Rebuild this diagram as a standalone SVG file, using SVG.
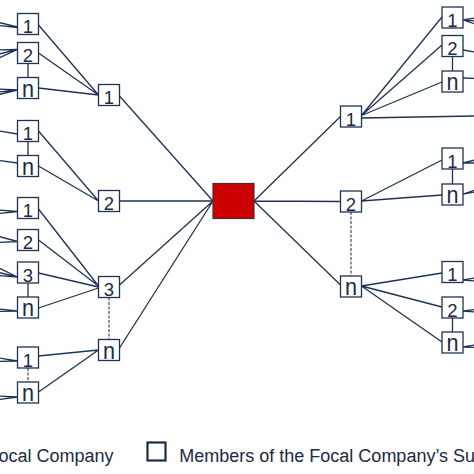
<svg xmlns="http://www.w3.org/2000/svg" width="474" height="474" viewBox="0 0 474 474">
<style>
.box{fill:#ffffff;stroke:#1e3354;stroke-width:1.3}
.lbl{font-family:"Liberation Sans",Arial,sans-serif;font-size:18.5px;fill:#1b2a44;text-anchor:middle}
.nl{font-family:"Liberation Sans",Arial,sans-serif;font-size:24px;fill:#1b2a44;text-anchor:middle}
.ln{stroke:#1e3354;stroke-width:1.3;fill:none}
.dash{stroke:#3a4c68;stroke-width:1.2;stroke-dasharray:3 1.5;fill:none}
.leg{font-family:"Liberation Sans",Arial,sans-serif;font-size:18px;fill:#1b2a44}
</style>
<rect width="474" height="474" fill="#ffffff"/>
<g id="connectors">
<!-- left stubs -->
<path class="ln" d="M-1 22.5L17.5 27M-1 25.5L17.5 27.5"/>
<path class="ln" d="M-1 50L17.5 49.5M-1 54L17.5 49.5M-1 58L17.5 49.5"/>
<path class="ln" d="M-1 89L17.5 90M-1 92L17.5 90M-1 94.5L17.5 90"/>
<path class="ln" d="M-1 131L17.5 134"/>
<path class="ln" d="M-1 160.5L17.5 163"/>
<path class="ln" d="M-1 210L17.5 211.5M-1 213.5L17.5 211.5"/>
<path class="ln" d="M-1 236.5L17.5 241.5M-1 242.5L17.5 241.5"/>
<path class="ln" d="M-1 268L17.5 277M-1 272.5L17.5 277M-1 275.5L17.5 277"/>
<path class="ln" d="M-1 309L17.5 311M-1 311.5L17.5 311"/>
<path class="ln" d="M-1 358L17.5 361M-1 361.5L17.5 361"/>
<path class="ln" d="M-1 396L17.5 397M-1 399.5L17.5 397"/>
<!-- left outer to left center -->
<path class="ln" d="M38.5 25L98.5 95M38.5 53L98.5 95M38.5 88L98.5 95"/>
<path class="ln" d="M38.5 131L98.5 201M38.5 166L98.5 201"/>
<path class="ln" d="M38.5 209L98.5 286M38.5 240L98.5 286M38.5 273L98.5 287M38.5 308L98.5 288"/>
<path class="ln" d="M38.5 356L98.5 350M38.5 392L98.5 350"/>
<!-- left center to focal -->
<path class="ln" d="M119.5 96L213 201M119.5 201L213 201M119.5 285L213 201M119.5 348L213 201"/>
<!-- sibling verticals left -->
<path class="ln" d="M28 63.5V77.5M28 141.5V155.5M28 283V297"/>
<path class="dash" d="M28 368V382M109 297.5V339.5"/>
<!-- focal to right center -->
<path class="ln" d="M254 201L340.5 116.5M254 201L340.5 201.5M254 201L340.5 285"/>
<!-- right center to right outer -->
<path class="ln" d="M361.5 115.5L442 17M361.5 115.5L442 45M361.5 115.5L442 82M361.5 118L475 116"/>
<path class="ln" d="M361.5 201L442 160M361.5 201L442 195"/>
<path class="ln" d="M361.5 286L442 273M361.5 286L442 307M361.5 286L442 342"/>
<!-- sibling verticals right -->
<path class="ln" d="M452.5 56.5V71M452.5 169V184M452.5 318V332"/>
<path class="dash" d="M351 212V276"/>
<!-- right stubs -->
<path class="ln" d="M463 20L475 18M463 20L475 21M463 20L475 24"/>
<path class="ln" d="M463 50L475 52"/>
<path class="ln" d="M463 78L475 78.5"/>
<path class="ln" d="M463 163L475 160M463 163L475 163"/>
<path class="ln" d="M463 194L475 190M463 194L475 192"/>
<path class="ln" d="M463 280L475 278M463 280L475 281"/>
<path class="ln" d="M463 311L475 309.5M463 311L475 312"/>
<path class="ln" d="M463 347L475 345M463 347L475 347.5"/>
</g>
<g id="focal"><rect x="213" y="183.5" width="41" height="35" fill="#cc0000" stroke="#4a2a3a" stroke-width="1.2"/></g>
<!-- left outer -->
<g id="A1"><rect class="box" x="17.5" y="13.5" width="21" height="21"/><text class="lbl" x="28" y="33">1</text></g>
<g id="A2"><rect class="box" x="17.5" y="42.5" width="21" height="21"/><text class="lbl" x="28" y="62">2</text></g>
<g id="An"><rect class="box" x="17.5" y="77.5" width="21" height="21"/><text class="nl" x="28" y="96.5" textLength="12" lengthAdjust="spacingAndGlyphs">n</text></g>
<g id="B1"><rect class="box" x="17.5" y="120.5" width="21" height="21"/><text class="lbl" x="28" y="140">1</text></g>
<g id="Bn"><rect class="box" x="17.5" y="155.5" width="21" height="21"/><text class="nl" x="28" y="174.5" textLength="12" lengthAdjust="spacingAndGlyphs">n</text></g>
<g id="C1"><rect class="box" x="17.5" y="197.5" width="21" height="21"/><text class="lbl" x="28" y="217">1</text></g>
<g id="C2"><rect class="box" x="17.5" y="229.5" width="21" height="21"/><text class="lbl" x="28" y="249">2</text></g>
<g id="C3"><rect class="box" x="17.5" y="262" width="21" height="21"/><text class="lbl" x="28" y="281.5">3</text></g>
<g id="Cn"><rect class="box" x="17.5" y="297" width="21" height="21"/><text class="nl" x="28" y="316" textLength="12" lengthAdjust="spacingAndGlyphs">n</text></g>
<g id="D1"><rect class="box" x="17.5" y="347" width="21" height="21"/><text class="lbl" x="28" y="366.5">1</text></g>
<g id="Dn"><rect class="box" x="17.5" y="382" width="21" height="21"/><text class="nl" x="28" y="401" textLength="12" lengthAdjust="spacingAndGlyphs">n</text></g>
<!-- left center -->
<g id="L1"><rect class="box" x="98.5" y="84.5" width="21" height="21"/><text class="lbl" x="109" y="104">1</text></g>
<g id="L2"><rect class="box" x="98.5" y="190.5" width="21" height="21"/><text class="lbl" x="109" y="210">2</text></g>
<g id="L3"><rect class="box" x="98.5" y="276.5" width="21" height="21"/><text class="lbl" x="109" y="296">3</text></g>
<g id="Ln"><rect class="box" x="98.5" y="339.5" width="21" height="21"/><text class="nl" x="109" y="358.5" textLength="12" lengthAdjust="spacingAndGlyphs">n</text></g>
<!-- right center -->
<g id="R1"><rect class="box" x="340.5" y="106" width="21" height="21"/><text class="lbl" x="351" y="125.5">1</text></g>
<g id="R2"><rect class="box" x="340.5" y="191" width="21" height="21"/><text class="lbl" x="351" y="210.5">2</text></g>
<g id="Rn"><rect class="box" x="340.5" y="276" width="21" height="21"/><text class="nl" x="351" y="295" textLength="12" lengthAdjust="spacingAndGlyphs">n</text></g>
<!-- right outer -->
<g id="E1"><rect class="box" x="442" y="7" width="21" height="21"/><text class="lbl" x="452.5" y="26.5">1</text></g>
<g id="E2"><rect class="box" x="442" y="35.5" width="21" height="21"/><text class="lbl" x="452.5" y="55">2</text></g>
<g id="En"><rect class="box" x="442" y="71" width="21" height="21"/><text class="nl" x="452.5" y="90" textLength="12" lengthAdjust="spacingAndGlyphs">n</text></g>
<g id="F1"><rect class="box" x="442" y="148" width="21" height="21"/><text class="lbl" x="452.5" y="167.5">1</text></g>
<g id="Fn"><rect class="box" x="442" y="184" width="21" height="21"/><text class="nl" x="452.5" y="203" textLength="12" lengthAdjust="spacingAndGlyphs">n</text></g>
<g id="G1"><rect class="box" x="442" y="261.5" width="21" height="21"/><text class="lbl" x="452.5" y="281">1</text></g>
<g id="G2"><rect class="box" x="442" y="297" width="21" height="21"/><text class="lbl" x="452.5" y="316.5">2</text></g>
<g id="Gn"><rect class="box" x="442" y="332" width="21" height="21"/><text class="nl" x="452.5" y="351" textLength="12" lengthAdjust="spacingAndGlyphs">n</text></g>
<!-- legend -->
<g id="legend">
<text class="leg" x="-1.5" y="461.5">ocal Company</text>
<rect x="147.5" y="442.5" width="18" height="18" fill="none" stroke="#1b2a44" stroke-width="2.2"/>
<text class="leg" x="179.3" y="461.5">Members of the Focal Company’s Su</text>
</g>
</svg>
